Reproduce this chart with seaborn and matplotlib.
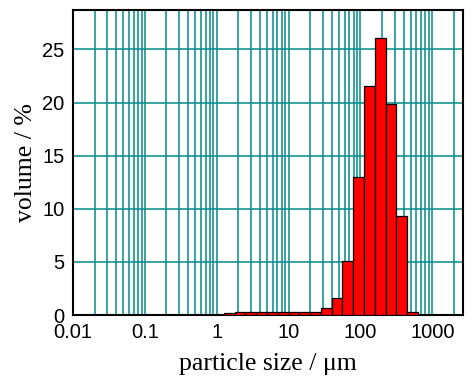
import numpy as np
import pandas as pd
import seaborn as sns
import matplotlib.pyplot as plt
from matplotlib.ticker import LogLocator, FixedLocator, NullFormatter

# bin edges (um) and volume fraction per bin (%)
bin_edges = [1.26, 1.78, 2.51, 3.55, 5.01, 7.08, 10.0, 14.1, 20.0, 28.2,
             39.8, 56.2, 79.4, 112, 158, 224, 316, 447, 631]
volume = [0.15, 0.25, 0.25, 0.25, 0.25, 0.25, 0.25, 0.25, 0.3, 0.65,
          1.6, 5.1, 13.0, 21.6, 26.1, 19.9, 9.3, 0.25]

x_ticks = [0.01, 0.1, 1, 10, 100, 1000]
x_ticklabels = ["0.01", "0.1", "1", "10", "100", "1000"]
y_ticks = [0, 5, 10, 15, 20, 25]

edges = np.array(bin_edges)
df = pd.DataFrame({"size": np.sqrt(edges[:-1] * edges[1:]), "volume": volume})

fig = plt.figure(figsize=(4.74, 3.87), dpi=100)
ax = fig.add_axes([0.154, 0.186, 0.8235, 0.788])

# bins are given in log10 units because of log_scale
sns.histplot(data=df, x="size", weights="volume", bins=list(np.log10(edges)),
             log_scale=True, color="#ff0000", edgecolor="black", linewidth=0.9,
             alpha=1, ax=ax, zorder=3)

ax.set_xlim(0.01, 2700)
ax.set_ylim(0, 28.7)
ax.xaxis.set_major_locator(FixedLocator(x_ticks))
ax.set_xticklabels(x_ticklabels)
ax.xaxis.set_minor_locator(LogLocator(base=10, subs=np.arange(2, 10), numticks=20))
ax.xaxis.set_minor_formatter(NullFormatter())
ax.set_yticks(y_ticks)

ax.set_axisbelow(True)
ax.grid(which="both", axis="x", color="#048a8a", lw=1.1)
ax.grid(which="major", axis="y", color="#048a8a", lw=1.1)
ax.tick_params(which="both", length=0, labelsize=14.5, pad=6)
for lab in ax.get_xticklabels() + ax.get_yticklabels():
    lab.set_family("Liberation Sans")
for sp in ax.spines.values():
    sp.set_linewidth(1.5)
    sp.set_color("black")

ax.set_xlabel("particle size / μm", family="Liberation Serif", fontsize=18.5, labelpad=8)
ax.set_ylabel("volume / %", family="Liberation Serif", fontsize=18.5, labelpad=4)

fig.savefig("out.png", dpi=100)
